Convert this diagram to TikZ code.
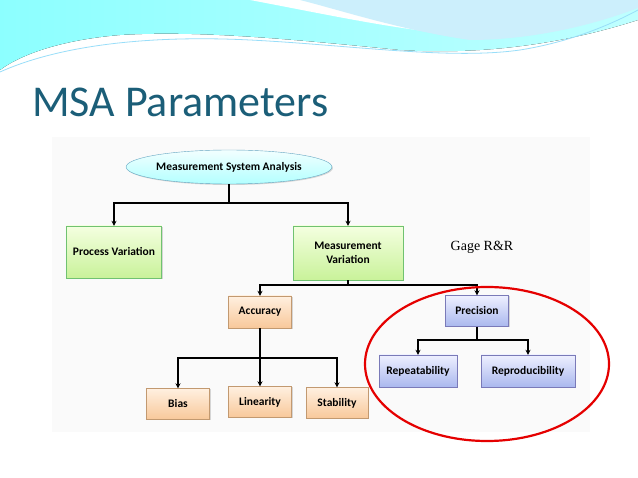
\documentclass[tikz,border=0pt]{standalone}
\usepackage{fontspec}
\setmainfont{Carlito}
\usetikzlibrary{shapes.geometric,arrows.meta,shadows}
\definecolor{titlec}{HTML}{1B5E78}
\definecolor{gtop}{HTML}{F4FFE0}
\definecolor{gbot}{HTML}{C9F29A}
\definecolor{otop}{HTML}{FFF0E0}
\definecolor{obot}{HTML}{F8C89A}
\definecolor{btop}{HTML}{EEF0FF}
\definecolor{bbot}{HTML}{AAB8EE}
\begin{document}
\begin{tikzpicture}[x=1pt,y=-1pt,
  box/.style={draw=#1, rectangle, font=\bfseries\fontsize{11.5}{14}\selectfont, align=center, inner sep=2pt, drop shadow={opacity=0.3,shadow xshift=1pt,shadow yshift=-1pt}},
  gbox/.style={box=green!40!gray!80, top color=gtop, bottom color=gbot},
  obox/.style={box=orange!40!gray!80, top color=otop, bottom color=obot},
  bbox/.style={box=blue!30!gray!80, top color=btop, bottom color=bbot},
  conn/.style={line width=1.3pt, -{Stealth[length=5pt,width=5pt]}}]
\useasboundingbox (0,0) rectangle (638,478);
\fill[white] (0,0) rectangle (638,478);
% header waves
\fill[left color=cyan!45!white, right color=cyan!25!white] (0,0) -- (638,0) -- (638,20) .. controls (560,45) and (480,55) .. (400,50) .. controls (300,40) and (200,30) .. (120,35) .. controls (60,40) and (20,55) .. (0,70) -- cycle;
\fill[white] (250,0) -- (330,0) .. controls (380,15) and (430,30) .. (480,35) .. controls (420,35) and (330,15) .. (250,0) -- cycle;
\fill[cyan!20!white] (300,0) -- (638,0) -- (638,8) .. controls (580,30) and (520,40) .. (470,40) .. controls (400,30) and (340,10) .. (300,0) -- cycle;
\draw[cyan!40!white, line width=0.8pt] (0,72) .. controls (60,45) and (150,35) .. (250,40) .. controls (350,45) and (450,60) .. (520,50) .. controls (570,42) and (610,25) .. (638,10);
\node[anchor=base west, text=titlec, font=\fontsize{44}{44}\selectfont, inner sep=0] (title) at (32,117) {MSA Parameters};
\fill[gray!4] (52,137) rectangle (590,432);
% nodes
\node[ellipse, draw=cyan!50!gray, top color=cyan!5!white, bottom color=cyan!30!white, minimum width=178, minimum height=34, font=\bfseries\fontsize{11.5}{14}\selectfont, inner sep=0, drop shadow={opacity=0.3,shadow xshift=1pt,shadow yshift=-1pt}] (msa) at (229,167) {Measurement System Analysis};
\node[gbox, minimum width=95, minimum height=52] (pv) at (114,252) {Process Variation};
\node[gbox, minimum width=110, minimum height=54] (mv) at (348,253) {Measurement\\Variation};
\node[obox, minimum width=63, minimum height=32] (acc) at (260,312) {Accuracy};
\node[bbox, minimum width=63, minimum height=31] (pre) at (477,311) {Precision};
\node[bbox, minimum width=78, minimum height=32] (rep) at (418,371) {Repeatability};
\node[bbox, minimum width=94, minimum height=32] (repro) at (528,371) {Reproducibility};
\node[obox, minimum width=63, minimum height=31] (bias) at (178,404) {Bias};
\node[obox, minimum width=63, minimum height=31] (lin) at (260,402) {Linearity};
\node[obox, minimum width=62, minimum height=31] (stab) at (337,403) {Stability};
% connectors
\coordinate (j1) at (229,203);
\draw[line width=1.3pt] (msa.south) -- (j1);
\draw[conn] (j1) -| (pv.north);
\draw[conn] (j1) -| (mv.north);
\coordinate (j2) at (348,285);
\draw[line width=1.3pt] (mv.south) -- (j2);
\draw[conn] (j2) -| (acc.north);
\draw[conn] (j2) -| (pre.north);
\coordinate (j3) at (260,358);
\draw[conn] (acc.south) -- (lin.north);
\draw[conn] (j3) -| (bias.north);
\draw[conn] (j3) -| (stab.north);
\coordinate (j4) at (477,340);
\draw[line width=1.3pt] (pre.south) -- (j4);
\draw[conn] (j4) -| (rep.north);
\draw[conn] (j4) -| (repro.north);
\node[font=\fontsize{14}{14}\selectfont, inner sep=0] (gage) at (482,247) {\setmainfont{Liberation Serif}Gage R\&R};
\draw[red!90!black, line width=2.2pt] (487,364) ellipse [x radius=122, y radius=77];
\end{tikzpicture}
\end{document}
